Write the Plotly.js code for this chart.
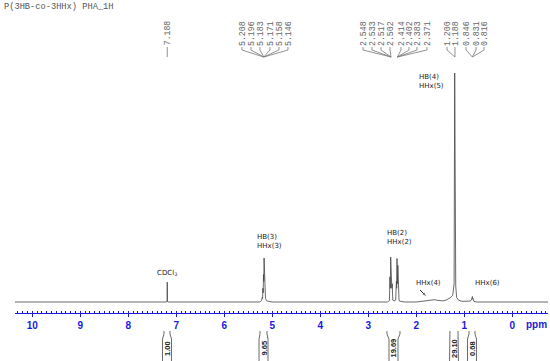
<!DOCTYPE html>
<html><head><meta charset="utf-8">
<script src="https://cdn.plot.ly/plotly-3.0.1.min.js"></script>
<style>html,body{margin:0;padding:0;background:#fff}</style>
</head><body><div id="chart" style="width:550px;height:361px"></div>
<script>
// ---- spectrum (chemical shift in ppm, relative intensity) ----
const specPpm = [10.36, 7.20, 7.192, 7.188, 7.184, 7.176,
  5.26, 5.225, 5.208, 5.202, 5.196, 5.19, 5.183, 5.177, 5.171, 5.165, 5.158, 5.152, 5.146, 5.14, 5.12, 5.08, 5.0,
  2.60, 2.56, 2.548, 2.541, 2.533, 2.525, 2.517, 2.51, 2.502, 2.49, 2.46, 2.43, 2.414, 2.408, 2.402, 2.393, 2.383, 2.377, 2.371, 2.36, 2.33, 2.25,
  2.0, 1.9, 1.8, 1.7, 1.62, 1.55, 1.45, 1.38, 1.32, 1.28, 1.24, 1.212, 1.200, 1.194, 1.188, 1.178, 1.16, 1.12, 1.05,
  0.95, 0.88, 0.855, 0.846, 0.839, 0.831, 0.824, 0.816, 0.80, 0.75, -0.744];
const specInt = [0, 0, 0.4, 8.7, 0.4, 0,
  0, 0.6, 2, 1.5, 6, 4, 12, 9, 19.2, 10, 12, 5, 4, 1.5, 0.6, 0.3, 0,
  0, 0.6, 11, 6, 19.6, 8, 16, 6, 8, 0.8, 0.5, 0.8, 9, 6, 19, 8, 16, 6, 7, 0.6, 0.3, 0,
  0, 0.3, 0.5, 0.7, 1.0, 0.7, 0.5, 0.8, 1.4, 2.0, 3, 8, 100, 45, 97, 7, 2, 0.8, 0.3,
  0.2, 0.4, 0.8, 1.8, 1.2, 2.4, 1.2, 1.5, 0.3, 0, 0];

// ---- peak picking labels ----
const peakShifts = [7.188, 5.208, 5.196, 5.183, 5.171, 5.158, 5.146,
  2.548, 2.533, 2.517, 2.502, 2.414, 2.402, 2.383, 2.371,
  1.200, 1.188, 0.846, 0.831, 0.816];
const peakGroupCentre = [7.188, 5.177, 5.177, 5.177, 5.177, 5.177, 5.177,
  2.525, 2.525, 2.525, 2.525, 2.393, 2.393, 2.393, 2.393,
  1.194, 1.194, 0.831, 0.831, 0.831];

// ---- integrals ----
const intStart = [7.256, 5.256, 2.610, 1.298, 0.902];
const intEnd   = [7.131, 5.110, 2.340, 1.131, 0.777];
const intValue = ['1.00', '9.65', '19.69', '29.10', '0.68'];

// ---- assignment labels ----
const assignText = ['CDCl<sub>3</sub>', 'HB(3)<br>HHx(3)', 'HB(2)<br>HHx(2)', 'HB(4)<br>HHx(5)', 'HHx(4)', 'HHx(6)'];

// ---- layout helpers (pixel -> axis units) ----
const PX_PER_UNIT = 2.29, BASE_PX = 302;
const yv = px => (BASE_PX - px) / PX_PER_UNIT;
const pp = px => (512.3 - px) / 48;

// label x positions for peak list (evenly spread)
const labelPx = [167.3, 242, 251, 260, 270, 279, 288, 363, 372, 381, 390, 401, 409, 417, 427, 447, 455, 466, 476, 484];

const blue = 'rgb(25,25,225)';
const traces = [];
traces.push({x: specPpm, y: specInt, type: 'scatter', mode: 'lines',
  line: {color: '#444', width: 0.8}, hoverinfo: 'skip', showlegend: false});

// leader lines
const lx = [], ly = [];
peakShifts.forEach((p, i) => {
  const lp = pp(labelPx[i]);
  lx.push(lp, lp, peakGroupCentre[i], null);
  ly.push(yv(47), yv(50), yv(57), null);
});
traces.push({x: lx, y: ly, type: 'scatter', mode: 'lines', line: {color: '#777', width: 0.8},
  hoverinfo: 'skip', showlegend: false});

// integral brackets
const bx = [], by = [];
const h = 4.5 / 48;
intStart.forEach((s, i) => {
  const e = intEnd[i], c = (s + e) / 2;
  bx.push(s, s, c + h, c + h, null, e, e, c - h, c - h, null);
  by.push(yv(331), yv(334), yv(339), yv(365), null, yv(331), yv(334), yv(339), yv(365), null);
});
traces.push({x: bx, y: by, type: 'scatter', mode: 'lines', line: {color: '#444', width: 0.8},
  hoverinfo: 'skip', showlegend: false});

// arrow to HHx(4)
traces.push({x: [pp(420), pp(427)], y: [yv(290), yv(297)], type: 'scatter', mode: 'lines+markers',
  line: {color: '#222', width: 1}, marker: {symbol: 'arrow', size: [0, 6], angleref: 'previous', color: '#222'},
  hoverinfo: 'skip', showlegend: false});

const ann = [];
ann.push({xref: 'paper', yref: 'paper', x: (2 - 15) / 533, y: (361 - 7) / 361, xanchor: 'left', yanchor: 'middle',
  text: 'P(3HB-co-3HHx) PHA_1H', showarrow: false, font: {family: 'Liberation Mono', size: 8.7, color: '#555'}});
peakShifts.forEach((p, i) => {
  ann.push({x: pp(labelPx[i]), y: yv(33), text: p.toFixed(3), textangle: -90, showarrow: false,
    xanchor: 'center', yanchor: 'middle', font: {family: 'Liberation Mono', size: 8.2, color: '#666'}});
});
intValue.forEach((v, i) => {
  ann.push({x: (intStart[i] + intEnd[i]) / 2, y: yv(348), text: '<b>' + v + '</b>', textangle: -90, showarrow: false,
    xanchor: 'center', yanchor: 'middle', font: {family: 'Liberation Sans', size: 7.5, color: '#222'}});
});
const assignPos = [[167, 273, 'center'], [255, 241, 'left'], [385, 237, 'left'], [417, 81.5, 'left'], [414, 283, 'left'], [473, 283, 'left']];
assignText.forEach((t, i) => {
  const a = assignPos[i];
  ann.push({x: pp(a[0]), y: yv(a[1]), text: t, showarrow: false, xanchor: a[2], yanchor: 'middle', align: 'left',
    font: {family: 'DejaVu Sans', size: 7, color: '#222'}});
});
ann.push({x: pp(537), y: yv(324), text: '<b>ppm</b>', showarrow: false, xanchor: 'center', yanchor: 'middle',
  font: {family: 'Liberation Sans', size: 10, color: blue}});

const layout = {
  width: 550, height: 361,
  margin: {l: 15, r: 2, t: 0, b: 0, pad: 0},
  paper_bgcolor: '#fff', plot_bgcolor: '#fff',
  showlegend: false,
  xaxis: {range: [10.36, -0.744], anchor: 'free', position: (361 - 313) / 361,
    showline: true, linecolor: blue, linewidth: 1, showgrid: false, zeroline: false,
    ticks: 'outside', ticklen: 3, tickcolor: blue, tickwidth: 1, dtick: 1, tick0: 0,
    tickfont: {family: 'Liberation Sans', size: 10, color: blue, weight: 'bold'},
    minor: {dtick: 0.1, ticks: 'inside', ticklen: 2, tickcolor: blue, showgrid: false}},
  yaxis: {range: [yv(361), yv(0)], visible: false, showgrid: false, zeroline: false},
  annotations: ann
};
Plotly.newPlot('chart', traces, layout, {displayModeBar: false, staticPlot: true});
</script></body></html>
